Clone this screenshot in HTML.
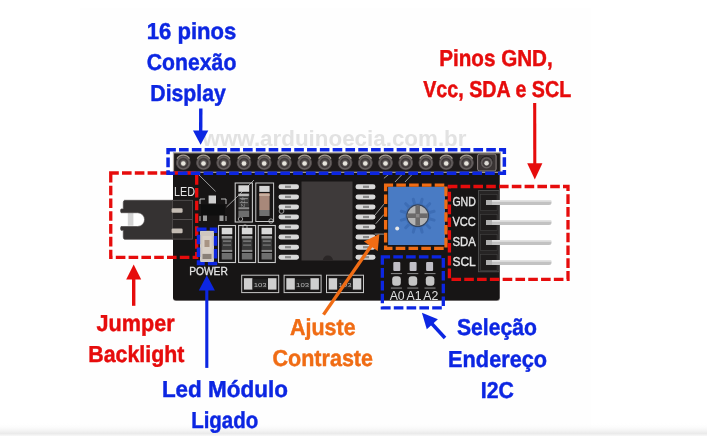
<!DOCTYPE html>
<html><head><meta charset="utf-8"><style>
html,body{margin:0;padding:0;background:#fff;}
svg{display:block;filter:blur(0.4px);}
text{font-family:"Liberation Sans", sans-serif;}
</style></head><body>
<svg width="707" height="436" viewBox="0 0 707 436">
<defs>
<linearGradient id="botg" x1="0" y1="0" x2="0" y2="1">
<stop offset="0" stop-color="#ffffff" stop-opacity="0"/>
<stop offset="0.8" stop-color="#eaeaea"/>
<stop offset="1" stop-color="#f8f8f8"/>
</linearGradient>
<radialGradient id="ball" cx="0.5" cy="0.55" r="0.5">
<stop offset="0" stop-color="#9a9494"/>
<stop offset="0.35" stop-color="#5a5454"/>
<stop offset="0.55" stop-color="#3a3434"/>
<stop offset="0.75" stop-color="#6a6464"/>
<stop offset="0.9" stop-color="#4a4444"/>
<stop offset="1" stop-color="#221e1e"/>
</radialGradient>
</defs>
<rect x="0" y="0" width="707" height="436" fill="#ffffff"/>
<rect x="80" y="8" width="511" height="428" fill="#fefefe"/>
<rect x="0" y="423" width="707" height="13" fill="url(#botg)"/>
<text x="202.5" y="145.8" font-family="Liberation Sans" font-weight="bold" font-size="22" fill="#e2e2e2" textLength="264" lengthAdjust="spacingAndGlyphs">www.arduinoecia.com.br</text>
<rect x="173" y="153" width="327" height="148" rx="3" fill="#8a8686"/>
<rect x="173" y="153" width="326.5" height="147.2" rx="3" fill="#171515"/>
<rect x="173.5" y="152.8" width="327" height="19.5" fill="#1f1b1b" stroke="#b0a8a0" stroke-width="1.2"/>
<circle cx="183.3" cy="162.2" r="7.8" fill="url(#ball)"/>
<path d="M177.1 158.7 A7.2 7.2 0 0 1 189.5 158.7" stroke="#a8a094" stroke-width="1.3" fill="none"/>
<circle cx="183.3" cy="163.5" r="2.3" fill="#e6e4dc"/>
<circle cx="203.5" cy="162.2" r="7.8" fill="url(#ball)"/>
<path d="M197.3 158.7 A7.2 7.2 0 0 1 209.7 158.7" stroke="#a8a094" stroke-width="1.3" fill="none"/>
<circle cx="203.5" cy="163.5" r="2.3" fill="#e6e4dc"/>
<circle cx="223.7" cy="162.2" r="7.8" fill="url(#ball)"/>
<path d="M217.5 158.7 A7.2 7.2 0 0 1 229.9 158.7" stroke="#a8a094" stroke-width="1.3" fill="none"/>
<circle cx="223.7" cy="163.5" r="2.3" fill="#e6e4dc"/>
<circle cx="244.0" cy="162.2" r="7.8" fill="url(#ball)"/>
<path d="M237.8 158.7 A7.2 7.2 0 0 1 250.2 158.7" stroke="#a8a094" stroke-width="1.3" fill="none"/>
<circle cx="244.0" cy="163.5" r="2.3" fill="#e6e4dc"/>
<circle cx="264.2" cy="162.2" r="7.8" fill="url(#ball)"/>
<path d="M258.0 158.7 A7.2 7.2 0 0 1 270.4 158.7" stroke="#a8a094" stroke-width="1.3" fill="none"/>
<circle cx="264.2" cy="163.5" r="2.3" fill="#e6e4dc"/>
<circle cx="284.4" cy="162.2" r="7.8" fill="url(#ball)"/>
<path d="M278.2 158.7 A7.2 7.2 0 0 1 290.6 158.7" stroke="#a8a094" stroke-width="1.3" fill="none"/>
<circle cx="284.4" cy="163.5" r="2.3" fill="#e6e4dc"/>
<circle cx="304.6" cy="162.2" r="7.8" fill="url(#ball)"/>
<path d="M298.4 158.7 A7.2 7.2 0 0 1 310.8 158.7" stroke="#a8a094" stroke-width="1.3" fill="none"/>
<circle cx="304.6" cy="163.5" r="2.3" fill="#e6e4dc"/>
<circle cx="324.8" cy="162.2" r="7.8" fill="url(#ball)"/>
<path d="M318.6 158.7 A7.2 7.2 0 0 1 331.0 158.7" stroke="#a8a094" stroke-width="1.3" fill="none"/>
<circle cx="324.8" cy="163.5" r="2.3" fill="#e6e4dc"/>
<circle cx="345.1" cy="162.2" r="7.8" fill="url(#ball)"/>
<path d="M338.9 158.7 A7.2 7.2 0 0 1 351.3 158.7" stroke="#a8a094" stroke-width="1.3" fill="none"/>
<circle cx="345.1" cy="163.5" r="2.3" fill="#e6e4dc"/>
<circle cx="365.3" cy="162.2" r="7.8" fill="url(#ball)"/>
<path d="M359.1 158.7 A7.2 7.2 0 0 1 371.5 158.7" stroke="#a8a094" stroke-width="1.3" fill="none"/>
<circle cx="365.3" cy="163.5" r="2.3" fill="#e6e4dc"/>
<circle cx="385.5" cy="162.2" r="7.8" fill="url(#ball)"/>
<path d="M379.3 158.7 A7.2 7.2 0 0 1 391.7 158.7" stroke="#a8a094" stroke-width="1.3" fill="none"/>
<circle cx="385.5" cy="163.5" r="2.3" fill="#e6e4dc"/>
<circle cx="405.7" cy="162.2" r="7.8" fill="url(#ball)"/>
<path d="M399.5 158.7 A7.2 7.2 0 0 1 411.9 158.7" stroke="#a8a094" stroke-width="1.3" fill="none"/>
<circle cx="405.7" cy="163.5" r="2.3" fill="#e6e4dc"/>
<circle cx="425.9" cy="162.2" r="7.8" fill="url(#ball)"/>
<path d="M419.7 158.7 A7.2 7.2 0 0 1 432.1 158.7" stroke="#a8a094" stroke-width="1.3" fill="none"/>
<circle cx="425.9" cy="163.5" r="2.3" fill="#e6e4dc"/>
<circle cx="446.2" cy="162.2" r="7.8" fill="url(#ball)"/>
<path d="M440.0 158.7 A7.2 7.2 0 0 1 452.4 158.7" stroke="#a8a094" stroke-width="1.3" fill="none"/>
<circle cx="446.2" cy="163.5" r="2.3" fill="#e6e4dc"/>
<circle cx="466.4" cy="162.2" r="7.8" fill="url(#ball)"/>
<path d="M460.2 158.7 A7.2 7.2 0 0 1 472.6 158.7" stroke="#a8a094" stroke-width="1.3" fill="none"/>
<circle cx="466.4" cy="163.5" r="2.3" fill="#e6e4dc"/>
<rect x="477.6" y="154" width="18.5" height="17" rx="2" fill="#3a3434" stroke="#8a8280" stroke-width="1"/>
<circle cx="486.6" cy="162.2" r="6.5" fill="url(#ball)"/>
<circle cx="486.6" cy="163.2" r="2.2" fill="#dcdad4"/>
<g stroke="#bdbdbd" stroke-width="0.8" fill="none">
<line x1="199" y1="175" x2="215.5" y2="191.3"/>
<line x1="226.5" y1="207" x2="238" y2="196"/>
<line x1="238" y1="196" x2="254" y2="180"/>
<line x1="374.6" y1="215.5" x2="383.9" y2="204.2"/>
<line x1="375.7" y1="223.8" x2="383.9" y2="214.5"/>
<line x1="383.9" y1="178.3" x2="389" y2="174.2"/>
<line x1="395" y1="182" x2="402" y2="174.5"/>
<line x1="405" y1="182" x2="412" y2="174.5"/>
<line x1="374.6" y1="234.1" x2="383.9" y2="234.1"/>
<circle cx="240.5" cy="219" r="2.2"/>
<circle cx="271" cy="221" r="2.2"/>
<circle cx="281.5" cy="211" r="2.4"/>
<circle cx="245" cy="227" r="2.2"/>
</g>
<text x="174" y="195.5" font-family="Liberation Sans" font-size="12.5" fill="#e6e6e6" textLength="21" lengthAdjust="spacingAndGlyphs">LED</text>
<g>
<rect x="172.5" y="200.3" width="20" height="19.3" fill="#262323" stroke="#5a5656" stroke-width="0.8"/>
<rect x="172.5" y="219.6" width="20" height="19.5" fill="#262323" stroke="#5a5656" stroke-width="0.8"/>
<rect x="127.8" y="212.7" width="5.6" height="13" fill="#d4d4d4"/>
<path d="M124.5 200.3 H172.5 V239.3 H124.5 Q123.2 239 123.3 237 V230.3 H121 Q120 228.5 121 226.5 H137.7 A6.9 6.9 0 0 0 137.7 212.7 H121 Q120 210.7 121 209 H123.3 V202.5 Q123.5 200.5 124.5 200.3 Z" fill="#353232" stroke="#4a4646" stroke-width="0.7"/>
<rect x="171.6" y="208.2" width="11" height="4.6" rx="1.2" fill="#c4bcb4"/>
<rect x="171.6" y="228.6" width="11" height="4.6" rx="1.2" fill="#c4bcb4"/>
</g>
<rect x="208.6" y="195.5" width="7.4" height="8" fill="#cfcfcf"/>
<rect x="201" y="204.4" width="24" height="11.1" fill="#0e0e0e"/>
<rect x="203" y="215.5" width="4" height="5.5" fill="#9a9a9a"/>
<rect x="219.5" y="215.5" width="4" height="5.5" fill="#9a9a9a"/>
<path d="M200 204 v-5 h5 M221 199 h5 v5 M200 216 v5 M226 216 v5" stroke="#cfcfcf" stroke-width="0.9" fill="none"/>
<rect x="235.2" y="183" width="17.2" height="39" fill="none" stroke="#c8c8c8" stroke-width="1.1"/><rect x="238.39999999999998" y="185.3" width="10.799999999999999" height="6.5" fill="#d8d8d8"/><rect x="238.39999999999998" y="193.5" width="10.799999999999999" height="2.8" fill="#9a9a9a"/><rect x="238.39999999999998" y="196.3" width="10.799999999999999" height="10.5" fill="#3a3a3a"/><rect x="239.7" y="198" width="8.2" height="1.2" fill="#8a8a8a"/><rect x="239.7" y="202" width="8.2" height="1.2" fill="#7a7a7a"/><rect x="238.39999999999998" y="207.2" width="10.799999999999999" height="2.2" fill="#8a8a8a"/><rect x="238.39999999999998" y="210.5" width="10.799999999999999" height="6.5" fill="#6e6e6e"/>
<rect x="238.6" y="194" width="9.8" height="2.2" fill="#bbbbbb"/>
<text x="0" y="0" transform="translate(241 197) rotate(90)" font-family="Liberation Sans" font-size="6" fill="#9a9a9a">472</text>
<rect x="255.8" y="183" width="17.8" height="38.5" fill="none" stroke="#c8c8c8" stroke-width="1"/>
<rect x="259.3" y="185.9" width="10.3" height="6" fill="#d5d5d5"/>
<rect x="259.3" y="193" width="10.3" height="17" fill="#a8887a"/>
<rect x="259.3" y="194" width="10.3" height="2" fill="#c8b0a0"/>
<rect x="259.3" y="210" width="10.3" height="6" fill="#707070"/>
<rect x="218.5" y="225.5" width="17" height="37" fill="none" stroke="#c8c8c8" stroke-width="1.1"/><rect x="221.7" y="227.8" width="10.6" height="6.5" fill="#d8d8d8"/><rect x="221.7" y="236.0" width="10.6" height="2.8" fill="#9a9a9a"/><rect x="221.7" y="238.8" width="10.6" height="10.5" fill="#3a3a3a"/><rect x="223.0" y="240.5" width="8" height="1.2" fill="#8a8a8a"/><rect x="223.0" y="244.5" width="8" height="1.2" fill="#7a7a7a"/><rect x="221.7" y="249.7" width="10.6" height="2.2" fill="#8a8a8a"/><rect x="221.7" y="253.0" width="10.6" height="6.5" fill="#6e6e6e"/>
<rect x="238.6" y="225.5" width="17" height="37" fill="none" stroke="#c8c8c8" stroke-width="1.1"/><rect x="241.79999999999998" y="227.8" width="10.6" height="6.5" fill="#d8d8d8"/><rect x="241.79999999999998" y="236.0" width="10.6" height="2.8" fill="#9a9a9a"/><rect x="241.79999999999998" y="238.8" width="10.6" height="10.5" fill="#3a3a3a"/><rect x="243.1" y="240.5" width="8" height="1.2" fill="#8a8a8a"/><rect x="243.1" y="244.5" width="8" height="1.2" fill="#7a7a7a"/><rect x="241.79999999999998" y="249.7" width="10.6" height="2.2" fill="#8a8a8a"/><rect x="241.79999999999998" y="253.0" width="10.6" height="6.5" fill="#6e6e6e"/>
<rect x="258.3" y="225.5" width="17" height="37" fill="none" stroke="#c8c8c8" stroke-width="1.1"/><rect x="261.5" y="227.8" width="10.6" height="6.5" fill="#d8d8d8"/><rect x="261.5" y="236.0" width="10.6" height="2.8" fill="#9a9a9a"/><rect x="261.5" y="238.8" width="10.6" height="10.5" fill="#3a3a3a"/><rect x="262.8" y="240.5" width="8" height="1.2" fill="#8a8a8a"/><rect x="262.8" y="244.5" width="8" height="1.2" fill="#7a7a7a"/><rect x="261.5" y="249.7" width="10.6" height="2.2" fill="#8a8a8a"/><rect x="261.5" y="253.0" width="10.6" height="6.5" fill="#6e6e6e"/>
<rect x="200.6" y="231.2" width="12.8" height="30.3" fill="#cfc6be" stroke="#e4e4e4" stroke-width="0.8"/>
<rect x="202.5" y="236" width="9" height="17" fill="#d8cfc6"/>
<rect x="204.5" y="240" width="5" height="7" fill="#a89484"/>
<rect x="202.5" y="254" width="9" height="5" fill="#8a8078"/>
<text x="189.2" y="274.8" font-family="Liberation Sans" font-size="11.5" fill="#e6e6e6" stroke="#e6e6e6" stroke-width="0.3" textLength="38.6" lengthAdjust="spacingAndGlyphs">POWER</text>
<rect x="301.5" y="181.5" width="51" height="79" fill="#3e3a3a"/>
<path d="M322.8 260.5 A5.1 5.1 0 0 1 333 260.5 Z" fill="#2a2626"/>
<rect x="278.5" y="184.3" width="20.5" height="5" rx="2.4" fill="#d8d8d8"/>
<rect x="285" y="185.7" width="6" height="2.2" fill="#8a8a8a"/>
<rect x="355.5" y="184.3" width="20" height="5" rx="2.4" fill="#d8d8d8"/>
<rect x="363" y="185.7" width="6" height="2.2" fill="#8a8a8a"/>
<rect x="278.5" y="194.4" width="20.5" height="5" rx="2.4" fill="#d8d8d8"/>
<rect x="285" y="195.8" width="6" height="2.2" fill="#8a8a8a"/>
<rect x="355.5" y="194.4" width="20" height="5" rx="2.4" fill="#d8d8d8"/>
<rect x="363" y="195.8" width="6" height="2.2" fill="#8a8a8a"/>
<rect x="278.5" y="204.4" width="20.5" height="5" rx="2.4" fill="#d8d8d8"/>
<rect x="285" y="205.8" width="6" height="2.2" fill="#8a8a8a"/>
<rect x="355.5" y="204.4" width="20" height="5" rx="2.4" fill="#d8d8d8"/>
<rect x="363" y="205.8" width="6" height="2.2" fill="#8a8a8a"/>
<rect x="278.5" y="214.5" width="20.5" height="5" rx="2.4" fill="#d8d8d8"/>
<rect x="285" y="215.9" width="6" height="2.2" fill="#8a8a8a"/>
<rect x="355.5" y="214.5" width="20" height="5" rx="2.4" fill="#d8d8d8"/>
<rect x="363" y="215.9" width="6" height="2.2" fill="#8a8a8a"/>
<rect x="278.5" y="224.5" width="20.5" height="5" rx="2.4" fill="#d8d8d8"/>
<rect x="285" y="225.9" width="6" height="2.2" fill="#8a8a8a"/>
<rect x="355.5" y="224.5" width="20" height="5" rx="2.4" fill="#d8d8d8"/>
<rect x="363" y="225.9" width="6" height="2.2" fill="#8a8a8a"/>
<rect x="278.5" y="234.6" width="20.5" height="5" rx="2.4" fill="#d8d8d8"/>
<rect x="285" y="236.0" width="6" height="2.2" fill="#8a8a8a"/>
<rect x="355.5" y="234.6" width="20" height="5" rx="2.4" fill="#d8d8d8"/>
<rect x="363" y="236.0" width="6" height="2.2" fill="#8a8a8a"/>
<rect x="278.5" y="244.7" width="20.5" height="5" rx="2.4" fill="#d8d8d8"/>
<rect x="285" y="246.1" width="6" height="2.2" fill="#8a8a8a"/>
<rect x="355.5" y="244.7" width="20" height="5" rx="2.4" fill="#d8d8d8"/>
<rect x="363" y="246.1" width="6" height="2.2" fill="#8a8a8a"/>
<rect x="278.5" y="254.7" width="20.5" height="5" rx="2.4" fill="#d8d8d8"/>
<rect x="285" y="256.1" width="6" height="2.2" fill="#8a8a8a"/>
<rect x="355.5" y="254.7" width="20" height="5" rx="2.4" fill="#d8d8d8"/>
<rect x="363" y="256.1" width="6" height="2.2" fill="#8a8a8a"/>
<rect x="241.7" y="275.2" width="37" height="17.4" fill="none" stroke="#c8c8c8" stroke-width="1"/><rect x="243.89999999999998" y="278.2" width="8.5" height="11.399999999999999" fill="#cfcfcf"/><rect x="268.0" y="278.2" width="8.5" height="11.399999999999999" fill="#cfcfcf"/><rect x="252.7" y="279.2" width="15" height="9.399999999999999" fill="#222"/><text x="253.7" y="286.7" font-family="Liberation Sans" font-size="6" fill="#bbbbbb" textLength="13" lengthAdjust="spacingAndGlyphs">103</text>
<rect x="284.1" y="275.2" width="37" height="17.4" fill="none" stroke="#c8c8c8" stroke-width="1"/><rect x="286.3" y="278.2" width="8.5" height="11.399999999999999" fill="#cfcfcf"/><rect x="310.40000000000003" y="278.2" width="8.5" height="11.399999999999999" fill="#cfcfcf"/><rect x="295.1" y="279.2" width="15" height="9.399999999999999" fill="#222"/><text x="296.1" y="286.7" font-family="Liberation Sans" font-size="6" fill="#bbbbbb" textLength="13" lengthAdjust="spacingAndGlyphs">103</text>
<rect x="326.5" y="275.2" width="37" height="17.4" fill="none" stroke="#c8c8c8" stroke-width="1"/><rect x="328.7" y="278.2" width="8.5" height="11.399999999999999" fill="#cfcfcf"/><rect x="352.8" y="278.2" width="8.5" height="11.399999999999999" fill="#cfcfcf"/><rect x="337.5" y="279.2" width="15" height="9.399999999999999" fill="#222"/><text x="338.5" y="286.7" font-family="Liberation Sans" font-size="6" fill="#bbbbbb" textLength="13" lengthAdjust="spacingAndGlyphs">103</text>
<rect x="388.1" y="186.7" width="56.9" height="58.3" fill="#497bc4"/>
<path d="M427.4 218.3 L434.1 220.1 M424.8 222.8 L429.7 227.7 M420.3 225.4 L422.1 232.1 M415.1 225.4 L413.3 232.1 M410.6 222.8 L405.7 227.7 M408.0 218.3 L401.3 220.1 M408.0 213.1 L401.3 211.3 M410.6 208.6 L405.7 203.7 M415.1 206.0 L413.3 199.3 M420.3 206.0 L422.1 199.3 M424.8 208.6 L429.7 203.7 M427.4 213.1 L434.1 211.3" stroke="#3d6db5" stroke-width="3" stroke-linecap="round"/>
<circle cx="417.7" cy="215.7" r="12.5" fill="#3f70b8"/>
<circle cx="417.7" cy="215.7" r="10.8" fill="#b4b4b4" stroke="#34445e" stroke-width="1.2"/>
<rect x="415.4" y="205.6" width="4.6" height="20.2" fill="#6c6a6a"/>
<rect x="407.6" y="213.4" width="20.2" height="4.6" fill="#6c6a6a"/>
<rect x="416" y="214" width="3.4" height="3.4" fill="#8a8888"/>
<circle cx="397.2" cy="228.5" r="2" fill="#e8e8e8"/>
<rect x="393.3" y="262" width="7" height="9" rx="1" fill="#c0bec6"/>
<rect x="409.6" y="262" width="7" height="9" rx="1" fill="#c0bec6"/>
<rect x="426.1" y="262" width="7" height="9" rx="1" fill="#c0bec6"/>
<rect x="392.2" y="276.3" width="8.6" height="9.4" rx="3" fill="#c4c4c4"/>
<rect x="390.9" y="273.2" width="11" height="0.9" fill="#9a9a9a"/>
<rect x="390.9" y="287.6" width="11" height="0.9" fill="#9a9a9a"/>
<rect x="408.6" y="276.3" width="8.6" height="9.4" rx="3" fill="#c4c4c4"/>
<rect x="407.3" y="273.2" width="11" height="0.9" fill="#9a9a9a"/>
<rect x="407.3" y="287.6" width="11" height="0.9" fill="#9a9a9a"/>
<rect x="425.8" y="276.3" width="8.6" height="9.4" rx="3" fill="#c4c4c4"/>
<rect x="424.5" y="273.2" width="11" height="0.9" fill="#9a9a9a"/>
<rect x="424.5" y="287.6" width="11" height="0.9" fill="#9a9a9a"/>
<text x="389.7" y="299.5" font-family="Liberation Sans" font-size="13" fill="#e0e0e0" textLength="15" lengthAdjust="spacingAndGlyphs">A0</text>
<text x="406.5" y="299.5" font-family="Liberation Sans" font-size="13" fill="#e0e0e0" textLength="15" lengthAdjust="spacingAndGlyphs">A1</text>
<text x="423.3" y="299.5" font-family="Liberation Sans" font-size="13" fill="#e0e0e0" textLength="15" lengthAdjust="spacingAndGlyphs">A2</text>
<rect x="478.5" y="190.6" width="20.6" height="81.2" fill="#262424" stroke="#555" stroke-width="0.8"/>
<rect x="480.5" y="194.5" width="16.6" height="16" fill="#1e1c1c" stroke="#444" stroke-width="0.6"/>
<rect x="489.5" y="200.0" width="62" height="5" rx="2.5" fill="#c2c2c2"/>
<rect x="489.5" y="200.0" width="62" height="1.8" rx="0.9" fill="#e2e2e2"/>
<rect x="486" y="200.0" width="6" height="5" fill="#b0b0b0"/>
<rect x="480.5" y="214.5" width="16.6" height="16" fill="#1e1c1c" stroke="#444" stroke-width="0.6"/>
<rect x="489.5" y="220.0" width="62" height="5" rx="2.5" fill="#c2c2c2"/>
<rect x="489.5" y="220.0" width="62" height="1.8" rx="0.9" fill="#e2e2e2"/>
<rect x="486" y="220.0" width="6" height="5" fill="#b0b0b0"/>
<rect x="480.5" y="234.5" width="16.6" height="16" fill="#1e1c1c" stroke="#444" stroke-width="0.6"/>
<rect x="489.5" y="240.0" width="62" height="5" rx="2.5" fill="#c2c2c2"/>
<rect x="489.5" y="240.0" width="62" height="1.8" rx="0.9" fill="#e2e2e2"/>
<rect x="486" y="240.0" width="6" height="5" fill="#b0b0b0"/>
<rect x="480.5" y="254.5" width="16.6" height="16" fill="#1e1c1c" stroke="#444" stroke-width="0.6"/>
<rect x="489.5" y="260.0" width="62" height="5" rx="2.5" fill="#c2c2c2"/>
<rect x="489.5" y="260.0" width="62" height="1.8" rx="0.9" fill="#e2e2e2"/>
<rect x="486" y="260.0" width="6" height="5" fill="#b0b0b0"/>
<text x="452.4" y="205.8" font-family="Liberation Sans" font-size="13" fill="#e6e6e6" stroke="#e6e6e6" stroke-width="0.35" textLength="23.4" lengthAdjust="spacingAndGlyphs">GND</text>
<text x="452.4" y="225.9" font-family="Liberation Sans" font-size="13" fill="#e6e6e6" stroke="#e6e6e6" stroke-width="0.35" textLength="23.4" lengthAdjust="spacingAndGlyphs">VCC</text>
<text x="452.4" y="246.0" font-family="Liberation Sans" font-size="13" fill="#e6e6e6" stroke="#e6e6e6" stroke-width="0.35" textLength="23.4" lengthAdjust="spacingAndGlyphs">SDA</text>
<text x="452.4" y="266.1" font-family="Liberation Sans" font-size="13" fill="#e6e6e6" stroke="#e6e6e6" stroke-width="0.35" textLength="23.4" lengthAdjust="spacingAndGlyphs">SCL</text>
<rect x="110.75" y="173" width="85.95" height="84.4" fill="none" stroke="#e60c0c" stroke-width="3.3" stroke-dasharray="9.6 3.2" stroke-dashoffset="1.55"/>
<rect x="168.05" y="149.75" width="336.3" height="23.5" fill="none" stroke="#0c26e2" stroke-width="3.5" stroke-dasharray="9.6 3.2" stroke-dashoffset="1.8"/>
<rect x="198.45" y="229.1" width="17.1" height="34.55" fill="none" stroke="#0c26e2" stroke-width="3.4" stroke-dasharray="9.6 3.2" stroke-dashoffset="1.5"/>
<rect x="385.6" y="185.1" width="60.4" height="63.2" fill="none" stroke="#f06c14" stroke-width="3.3" stroke-dasharray="9.6 3.2" stroke-dashoffset="2.1"/>
<rect x="449.4" y="186.5" width="118.6" height="92.85" fill="none" stroke="#e60c0c" stroke-width="3.3" stroke-dasharray="9.6 3.2" stroke-dashoffset="1.6"/>
<rect x="382.35" y="256.9" width="60.95" height="50.9" fill="none" stroke="#0c26e2" stroke-width="3.3" stroke-dasharray="9.6 3.2" stroke-dashoffset="1.85"/>
<line x1="200.8" y1="108.6" x2="200.7" y2="131.4" stroke="#0c26e2" stroke-width="3.4"/><polygon points="200.6,144.7 193.0,130.4 208.3,130.4" fill="#0c26e2"/>
<line x1="534.7" y1="102.9" x2="534.8" y2="164.3" stroke="#e60c0c" stroke-width="3.1"/><polygon points="534.8,179.5 527.2,163.3 542.4,163.3" fill="#e60c0c"/>
<line x1="133.7" y1="305.8" x2="133.7" y2="278.6" stroke="#e60c0c" stroke-width="3.4"/><polygon points="133.7,264.6 141.2,279.6 126.2,279.6" fill="#e60c0c"/>
<line x1="206.8" y1="367.9" x2="206.8" y2="289.4" stroke="#0c26e2" stroke-width="3.1"/><polygon points="206.8,275.3 214.9,290.4 198.8,290.4" fill="#0c26e2"/>
<line x1="323.5" y1="314.6" x2="371.4" y2="245.5" stroke="#f06c14" stroke-width="3.4"/><polygon points="379.4,233.9 377.7,251.1 363.9,241.6" fill="#f06c14"/>
<line x1="445" y1="338" x2="431.7" y2="323.5" stroke="#0c26e2" stroke-width="3.5"/><polygon points="421.9,312.8 437.9,319.2 426.8,329.3" fill="#0c26e2"/>
<text x="146.8" y="38.9" text-rendering="geometricPrecision" font-family="Liberation Sans" font-weight="bold" font-size="23.1" fill="#0c26e2" stroke="#0c26e2" stroke-width="0.45" textLength="89.54" lengthAdjust="spacingAndGlyphs">16 pinos</text>
<text x="146.8" y="69.8" text-rendering="geometricPrecision" font-family="Liberation Sans" font-weight="bold" font-size="23.1" fill="#0c26e2" stroke="#0c26e2" stroke-width="0.45" textLength="89.54" lengthAdjust="spacingAndGlyphs">Conexão</text>
<text x="150.3" y="100.8" text-rendering="geometricPrecision" font-family="Liberation Sans" font-weight="bold" font-size="23.1" fill="#0c26e2" stroke="#0c26e2" stroke-width="0.45" textLength="75.51" lengthAdjust="spacingAndGlyphs">Display</text>
<text x="439.2" y="65.6" text-rendering="geometricPrecision" font-family="Liberation Sans" font-weight="bold" font-size="23.1" fill="#e60c0c" stroke="#e60c0c" stroke-width="0.45" textLength="113.55" lengthAdjust="spacingAndGlyphs">Pinos GND,</text>
<text x="423.2" y="96.8" text-rendering="geometricPrecision" font-family="Liberation Sans" font-weight="bold" font-size="23.1" fill="#e60c0c" stroke="#e60c0c" stroke-width="0.45" textLength="148.0" lengthAdjust="spacingAndGlyphs">Vcc, SDA e SCL</text>
<text x="96.6" y="330.5" text-rendering="geometricPrecision" font-family="Liberation Sans" font-weight="bold" font-size="23.1" fill="#e60c0c" stroke="#e60c0c" stroke-width="0.45" textLength="78.01" lengthAdjust="spacingAndGlyphs">Jumper</text>
<text x="88.3" y="361.7" text-rendering="geometricPrecision" font-family="Liberation Sans" font-weight="bold" font-size="23.1" fill="#e60c0c" stroke="#e60c0c" stroke-width="0.45" textLength="96.02" lengthAdjust="spacingAndGlyphs">Backlight</text>
<text x="161.9" y="397.3" text-rendering="geometricPrecision" font-family="Liberation Sans" font-weight="bold" font-size="23.1" fill="#0c26e2" stroke="#0c26e2" stroke-width="0.45" textLength="126.02" lengthAdjust="spacingAndGlyphs">Led Módulo</text>
<text x="191.2" y="428.1" text-rendering="geometricPrecision" font-family="Liberation Sans" font-weight="bold" font-size="23.1" fill="#0c26e2" stroke="#0c26e2" stroke-width="0.45" textLength="67.04" lengthAdjust="spacingAndGlyphs">Ligado</text>
<text x="290.1" y="334.5" text-rendering="geometricPrecision" font-family="Liberation Sans" font-weight="bold" font-size="23.1" fill="#f06c14" stroke="#f06c14" stroke-width="0.45" textLength="65.51" lengthAdjust="spacingAndGlyphs">Ajuste</text>
<text x="272.5" y="365.9" text-rendering="geometricPrecision" font-family="Liberation Sans" font-weight="bold" font-size="23.1" fill="#f06c14" stroke="#f06c14" stroke-width="0.45" textLength="100.52" lengthAdjust="spacingAndGlyphs">Contraste</text>
<text x="456.9" y="335.2" text-rendering="geometricPrecision" font-family="Liberation Sans" font-weight="bold" font-size="23.1" fill="#0c26e2" stroke="#0c26e2" stroke-width="0.45" textLength="80.05" lengthAdjust="spacingAndGlyphs">Seleção</text>
<text x="448.1" y="366.9" text-rendering="geometricPrecision" font-family="Liberation Sans" font-weight="bold" font-size="23.1" fill="#0c26e2" stroke="#0c26e2" stroke-width="0.45" textLength="99.03" lengthAdjust="spacingAndGlyphs">Endereço</text>
<text x="480.8" y="397.7" text-rendering="geometricPrecision" font-family="Liberation Sans" font-weight="bold" font-size="23.1" fill="#0c26e2" stroke="#0c26e2" stroke-width="0.45" textLength="33.08" lengthAdjust="spacingAndGlyphs">I2C</text>
</svg>
</body></html>
